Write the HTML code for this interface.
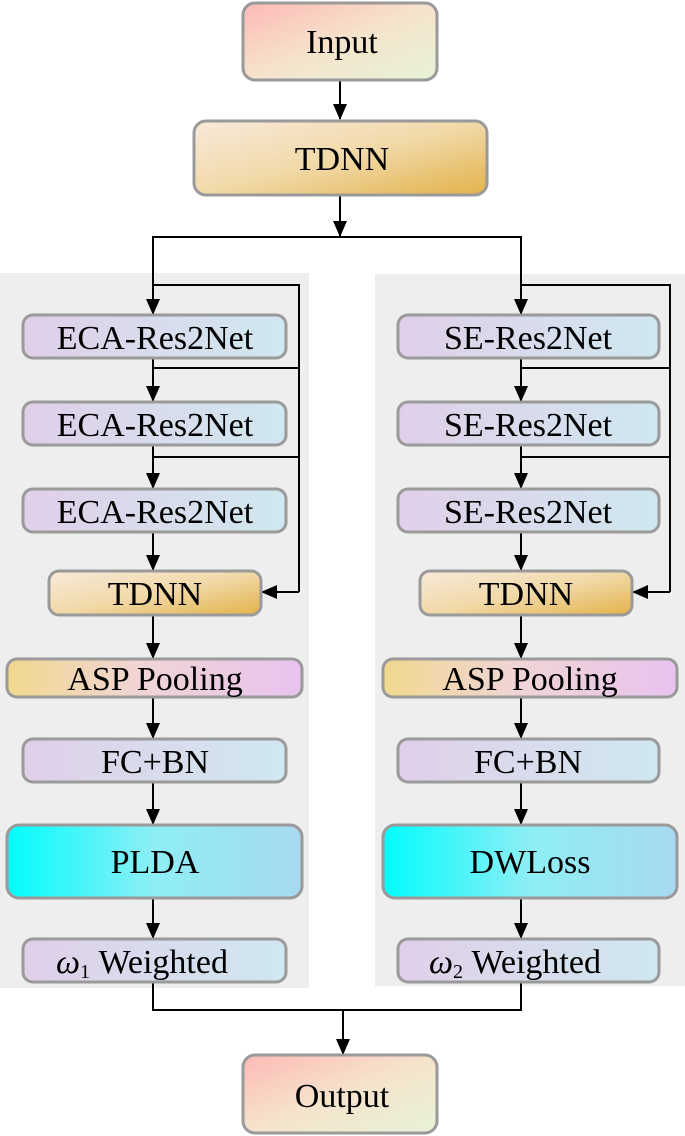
<!DOCTYPE html>
<html><head><style>html,body{margin:0;padding:0;background:#fff}svg{display:block}text{font-family:"Liberation Serif",serif;font-size:34px;fill:#000;text-anchor:middle}</style></head><body>
<svg width="685" height="1136" viewBox="0 0 685 1136" xmlns="http://www.w3.org/2000/svg">
<defs>
<linearGradient id="gIn" x1="0" y1="0" x2="1" y2="1"><stop offset="0" stop-color="#fdb9b6"/><stop offset="0.5" stop-color="#f6e3cc"/><stop offset="1" stop-color="#e6f3d8"/></linearGradient>
<linearGradient id="gT" x1="0" y1="0" x2="1" y2="1"><stop offset="0" stop-color="#f8eadb"/><stop offset="0.5" stop-color="#f1d9a8"/><stop offset="1" stop-color="#e3b24a"/></linearGradient>
<linearGradient id="gE" x1="0" y1="0" x2="1" y2="0"><stop offset="0" stop-color="#e1cfe9"/><stop offset="1" stop-color="#cfe8ef"/></linearGradient>
<linearGradient id="gA" x1="0" y1="0" x2="1" y2="0"><stop offset="0" stop-color="#f1d88e"/><stop offset="0.45" stop-color="#f0d5d5"/><stop offset="1" stop-color="#e8c3ef"/></linearGradient>
<linearGradient id="gP" x1="0" y1="0" x2="1" y2="0"><stop offset="0" stop-color="#00fdfd"/><stop offset="0.5" stop-color="#8eeef5"/><stop offset="1" stop-color="#a8d9ef"/></linearGradient>
<marker id="ar" markerWidth="16" markerHeight="16" refX="15" refY="8" orient="auto" markerUnits="userSpaceOnUse"><path d="M0,1 L16,8 L0,15 z" fill="#000"/></marker>
</defs>
<g stroke="none" fill="#eeeeee"><rect x="0" y="273" width="309" height="715"/><rect x="375" y="274" width="310" height="712"/></g>
<g stroke="#000" stroke-width="2" fill="none">
<line x1="340" y1="81" x2="340" y2="119" marker-end="url(#ar)"/>
<line x1="340" y1="196" x2="340" y2="236" marker-end="url(#ar)"/>
<polyline points="153,300 153,237 521,237 521,300" />
<line x1="153" y1="290" x2="153" y2="314" marker-end="url(#ar)"/>
<line x1="521" y1="290" x2="521" y2="314" marker-end="url(#ar)"/>
<polyline points="153,285 299,285 299,592"/>
<line x1="299" y1="592" x2="262" y2="592" marker-end="url(#ar)"/>
<polyline points="521,285 670,285 670,592"/>
<line x1="670" y1="592" x2="633" y2="592" marker-end="url(#ar)"/>
<line x1="153" y1="358" x2="153" y2="401" marker-end="url(#ar)"/>
<line x1="153" y1="368" x2="299" y2="368"/>
<line x1="153" y1="445" x2="153" y2="488" marker-end="url(#ar)"/>
<line x1="153" y1="457" x2="299" y2="457"/>
<line x1="153" y1="532" x2="153" y2="570" marker-end="url(#ar)"/>
<line x1="153" y1="615" x2="153" y2="658" marker-end="url(#ar)"/>
<line x1="153" y1="697" x2="153" y2="738" marker-end="url(#ar)"/>
<line x1="153" y1="782" x2="153" y2="824" marker-end="url(#ar)"/>
<line x1="153" y1="898" x2="153" y2="938" marker-end="url(#ar)"/>
<line x1="521" y1="358" x2="521" y2="401" marker-end="url(#ar)"/>
<line x1="521" y1="368" x2="670" y2="368"/>
<line x1="521" y1="445" x2="521" y2="488" marker-end="url(#ar)"/>
<line x1="521" y1="457" x2="670" y2="457"/>
<line x1="521" y1="532" x2="521" y2="570" marker-end="url(#ar)"/>
<line x1="521" y1="615" x2="521" y2="658" marker-end="url(#ar)"/>
<line x1="521" y1="697" x2="521" y2="738" marker-end="url(#ar)"/>
<line x1="521" y1="782" x2="521" y2="824" marker-end="url(#ar)"/>
<line x1="521" y1="898" x2="521" y2="938" marker-end="url(#ar)"/>
<polyline points="153,982 153,1010 521,1010 521,982"/>
<line x1="343" y1="1010" x2="343" y2="1054" marker-end="url(#ar)"/>
</g>
<g stroke="#9a9a9a" stroke-width="3">
<rect x="243" y="3" width="194" height="77" rx="12" fill="url(#gIn)"/>
<rect x="194" y="121" width="293" height="74" rx="12" fill="url(#gT)"/>
<rect x="23" y="315" width="263" height="43" rx="10" fill="url(#gE)"/>
<rect x="23" y="402" width="263" height="43" rx="10" fill="url(#gE)"/>
<rect x="23" y="489" width="263" height="43" rx="10" fill="url(#gE)"/>
<rect x="49" y="571" width="212" height="44" rx="10" fill="url(#gT)"/>
<rect x="7" y="659" width="295" height="38" rx="10" fill="url(#gA)"/>
<rect x="23" y="739" width="263" height="43" rx="10" fill="url(#gE)"/>
<rect x="7" y="825" width="295" height="73" rx="12" fill="url(#gP)"/>
<rect x="23" y="939" width="263" height="43" rx="10" fill="url(#gE)"/>
<rect x="398" y="315" width="261" height="43" rx="10" fill="url(#gE)"/>
<rect x="398" y="402" width="261" height="43" rx="10" fill="url(#gE)"/>
<rect x="398" y="489" width="261" height="43" rx="10" fill="url(#gE)"/>
<rect x="420" y="571" width="212" height="44" rx="10" fill="url(#gT)"/>
<rect x="383" y="659" width="294" height="38" rx="10" fill="url(#gA)"/>
<rect x="398" y="739" width="261" height="43" rx="10" fill="url(#gE)"/>
<rect x="383" y="825" width="294" height="73" rx="12" fill="url(#gP)"/>
<rect x="398" y="939" width="261" height="43" rx="10" fill="url(#gE)"/>
<rect x="243" y="1055" width="194" height="78" rx="12" fill="url(#gIn)"/>
</g>
<text x="342" y="53">Input</text>
<text x="342" y="170">TDNN</text>
<text x="155" y="349">ECA-Res2Net</text>
<text x="155" y="436">ECA-Res2Net</text>
<text x="155" y="523">ECA-Res2Net</text>
<text x="155" y="605">TDNN</text>
<text x="155" y="690">ASP Pooling</text>
<text x="155" y="773">FC+BN</text>
<text x="155" y="873">PLDA</text>
<text x="142" y="973"><tspan font-style="italic">ω</tspan><tspan font-size="20" dy="5">1</tspan><tspan dy="-5"> Weighted</tspan></text>
<text x="528" y="349">SE-Res2Net</text>
<text x="528" y="436">SE-Res2Net</text>
<text x="528" y="523">SE-Res2Net</text>
<text x="526" y="605">TDNN</text>
<text x="530" y="690">ASP Pooling</text>
<text x="528" y="773">FC+BN</text>
<text x="530" y="873">DWLoss</text>
<text x="515" y="973"><tspan font-style="italic">ω</tspan><tspan font-size="20" dy="5">2</tspan><tspan dy="-5"> Weighted</tspan></text>
<text x="342" y="1107">Output</text>
</svg>
</body></html>
